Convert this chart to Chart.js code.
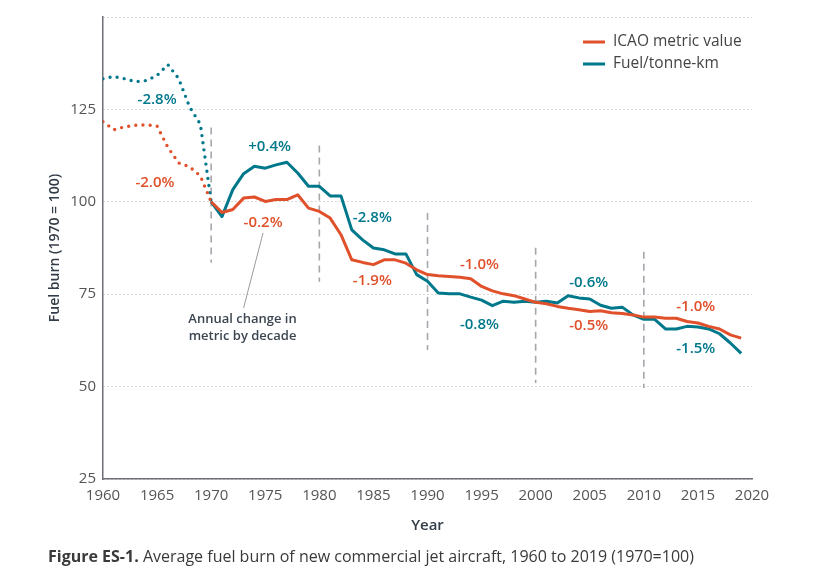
<!DOCTYPE html>
<html><head><meta charset="utf-8">
<script src="https://cdn.jsdelivr.net/npm/chart.js@4.4.1/dist/chart.umd.min.js"></script>
<style>
html,body{margin:0;padding:0;background:#fff;}
#wrap{position:relative;width:825px;height:587px;overflow:hidden;}
canvas{position:absolute;left:0;top:0;}
#cap{position:absolute;left:48px;top:545px;font-family:'Open Sans',sans-serif;font-size:16px;line-height:22px;color:#3a3a3a;white-space:nowrap;}
#cap b{font-weight:700;}
</style>
</head><body>
<div id="wrap"><canvas id="c" width="825" height="587"></canvas>
<div id="cap"><b>Figure ES-1.</b> Average fuel burn of new commercial jet aircraft, 1960 to 2019 (1970=100)</div></div>
<script>
const years = [1960,1961,1962,1963,1964,1965,1966,1967,1968,1969,1970,1971,1972,1973,1974,1975,1976,1977,1978,1979,
  1980,1981,1982,1983,1984,1985,1986,1987,1988,1989,1990,1991,1992,1993,1994,1995,1996,1997,1998,1999,
  2000,2001,2002,2003,2004,2005,2006,2007,2008,2009,2010,2011,2012,2013,2014,2015,2016,2017,2018,2019];
const icaoMetric = [121.7,119.5,120.3,120.7,120.8,120.5,114.7,110.5,109.5,107.0,100.0,97.1,97.9,101.0,101.3,100.1,100.6,100.6,101.9,98.3,
  97.4,95.6,91.1,84.3,83.6,83.0,84.3,84.3,83.4,81.6,80.3,80.0,79.8,79.6,79.2,77.1,75.9,75.1,74.6,73.7,
  72.8,72.4,71.7,71.2,70.8,70.3,70.5,70.0,69.8,69.4,68.8,68.8,68.5,68.5,67.6,67.2,66.3,65.6,64.0,63.1];
const fuelTonneKm = [133.3,133.9,133.3,132.5,132.8,134.2,137.1,133.3,125.7,121.0,100.0,96.0,103.3,107.6,109.6,109.1,110.0,110.7,107.8,104.2,
  104.2,101.6,101.6,92.4,89.7,87.5,87.0,85.9,85.9,80.3,78.5,75.3,75.1,75.1,74.2,73.4,71.9,73.1,72.8,73.1,
  72.8,73.1,72.6,74.6,74.0,73.7,72.0,71.2,71.5,69.4,68.2,68.2,65.6,65.6,66.3,66.1,65.6,64.3,61.8,59.0];
const seriesNames = ['ICAO metric value','Fuel/tonne-km'];
const historicEnd = 1970;
const decadeYears = [1970,1980,1990,2000,2010];
const decadeTop = [120.1,115.2,97.0,87.6,86.5];
const decadeBottom = [83.5,78.4,59.9,51.0,49.6];
const changeText = ['-2.0%','-0.2%','-1.9%','-1.0%','-0.5%','-1.0%','-2.8%','+0.4%','-2.8%','-0.8%','-0.6%','-1.5%'];
const changeSeries = [0,0,0,0,0,0,1,1,1,1,1,1];
const changeX = [1964.8,1974.8,1984.9,1994.8,2004.9,2014.8,1965.0,1975.4,1984.9,1994.8,2004.9,2014.8];
const changeY = [105.2,94.3,78.6,83.0,66.4,71.6,127.7,114.9,95.7,66.7,78.1,60.2];
const noteLines = ['Annual change in','metric by decade'];
const notePos = {x:1972.9, y:[68.1,63.7]};
const leader = {x1:1974.8, y1:91.6, x2:1973.0, y2:71.3};
const xTicks = {min:1960, max:2020, step:5};
const yTicks = {min:25, max:150, step:25};

const COLORS = ['#e0502b','#00788b'];
const FONT = "'Open Sans', sans-serif";

function pts(vals, from, to){
  const out=[];
  years.forEach((y,i)=>{ if(y>=from && y<=to) out.push({x:y,y:vals[i]}); });
  return out;
}
const datasets = [];
[icaoMetric, fuelTonneKm].forEach((vals,k)=>{
  datasets.push({label:seriesNames[k], data:pts(vals,historicEnd,2019), borderColor:COLORS[k], backgroundColor:COLORS[k],
    borderWidth:3, pointRadius:0, tension:0, order:1, borderJoinStyle:'round'});
});
[icaoMetric, fuelTonneKm].forEach((vals,k)=>{
  datasets.push({label:seriesNames[k]+' (historic)', data:pts(vals,1960,historicEnd), borderColor:COLORS[k],
    borderWidth:3.4, borderDash:[0,7.2], borderCapStyle:'round', pointRadius:0, tension:0, order:2});
});
decadeYears.forEach((d,i)=>{
  datasets.push({label:'decade'+d, data:[{x:d,y:decadeTop[i]},{x:d,y:decadeBottom[i]}], borderColor:'#a4a8ac',
    borderWidth:1.6, borderDash:[7,5], pointRadius:0, order:5});
});

const overlay = {
  id:'overlay',
  afterDatasetsDraw(chart){
    const {ctx, scales:{x, y}} = chart;
    ctx.save();
    ctx.strokeStyle='#9a9a9a'; ctx.lineWidth=1;
    ctx.beginPath();
    ctx.moveTo(x.getPixelForValue(leader.x1), y.getPixelForValue(leader.y1));
    ctx.lineTo(x.getPixelForValue(leader.x2), y.getPixelForValue(leader.y2));
    ctx.stroke();
    ctx.font = "600 15px "+FONT; ctx.textAlign='center'; ctx.textBaseline='middle';
    changeText.forEach((t,i)=>{
      ctx.fillStyle = COLORS[changeSeries[i]];
      ctx.fillText(t, x.getPixelForValue(changeX[i]), y.getPixelForValue(changeY[i]));
    });
    ctx.font = "600 13px "+FONT; ctx.fillStyle='#3c4650';
    noteLines.forEach((t,i)=> ctx.fillText(t, x.getPixelForValue(notePos.x), y.getPixelForValue(notePos.y[i])));
    const ca = chart.chartArea;
    ctx.font = "15.5px "+FONT; ctx.textAlign='left'; ctx.fillStyle='#444';
    seriesNames.forEach((n,k)=>{
      const ly = ca.top + 25 + k*22;
      const lx = ca.right - 169;
      ctx.strokeStyle = COLORS[k]; ctx.lineWidth=3;
      ctx.beginPath(); ctx.moveTo(lx, ly); ctx.lineTo(lx+22, ly); ctx.stroke();
      ctx.fillText(n, lx+30, ly);
    });
    ctx.restore();
  }
};

new Chart(document.getElementById('c'), {
  type:'line',
  data:{datasets},
  options:{
    responsive:false, animation:false, devicePixelRatio:1,
    layout:{padding:{left:0, right:73, top:17, bottom:0}},
    plugins:{legend:{display:false}, tooltip:{enabled:false}},
    scales:{
      x:{type:'linear', min:xTicks.min, max:xTicks.max,
        afterFit(s){ s.height = 108; },
        ticks:{stepSize:xTicks.step, callback:v=>String(v), color:'#555', font:{family:FONT, size:15}, padding:8, maxRotation:0},
        grid:{display:false, drawTicks:false},
        border:{display:true, color:'#6d7176', width:1.5},
        title:{display:true, text:'Year', color:'#333d47', font:{family:FONT, size:15, weight:'600'}, padding:{top:0,bottom:52}}
      },
      y:{type:'linear', min:yTicks.min, max:yTicks.max,
        afterFit(s){ s.width = 103; },
        ticks:{stepSize:yTicks.step, callback:v=> v===yTicks.max ? '' : String(v), color:'#555', font:{family:FONT, size:15}, padding:7},
        grid:{color:'#b0b0b0', lineWidth:1, drawTicks:false},
        border:{display:true, color:'#6d7176', width:1.5, dash:[1,3]},
        title:{display:true, text:'Fuel burn (1970 = 100)', color:'#333d47', font:{family:FONT, size:14, weight:'600'}, padding:{top:47,bottom:0}}
      }
    }
  },
  plugins:[overlay]
});
</script>
</body></html>
